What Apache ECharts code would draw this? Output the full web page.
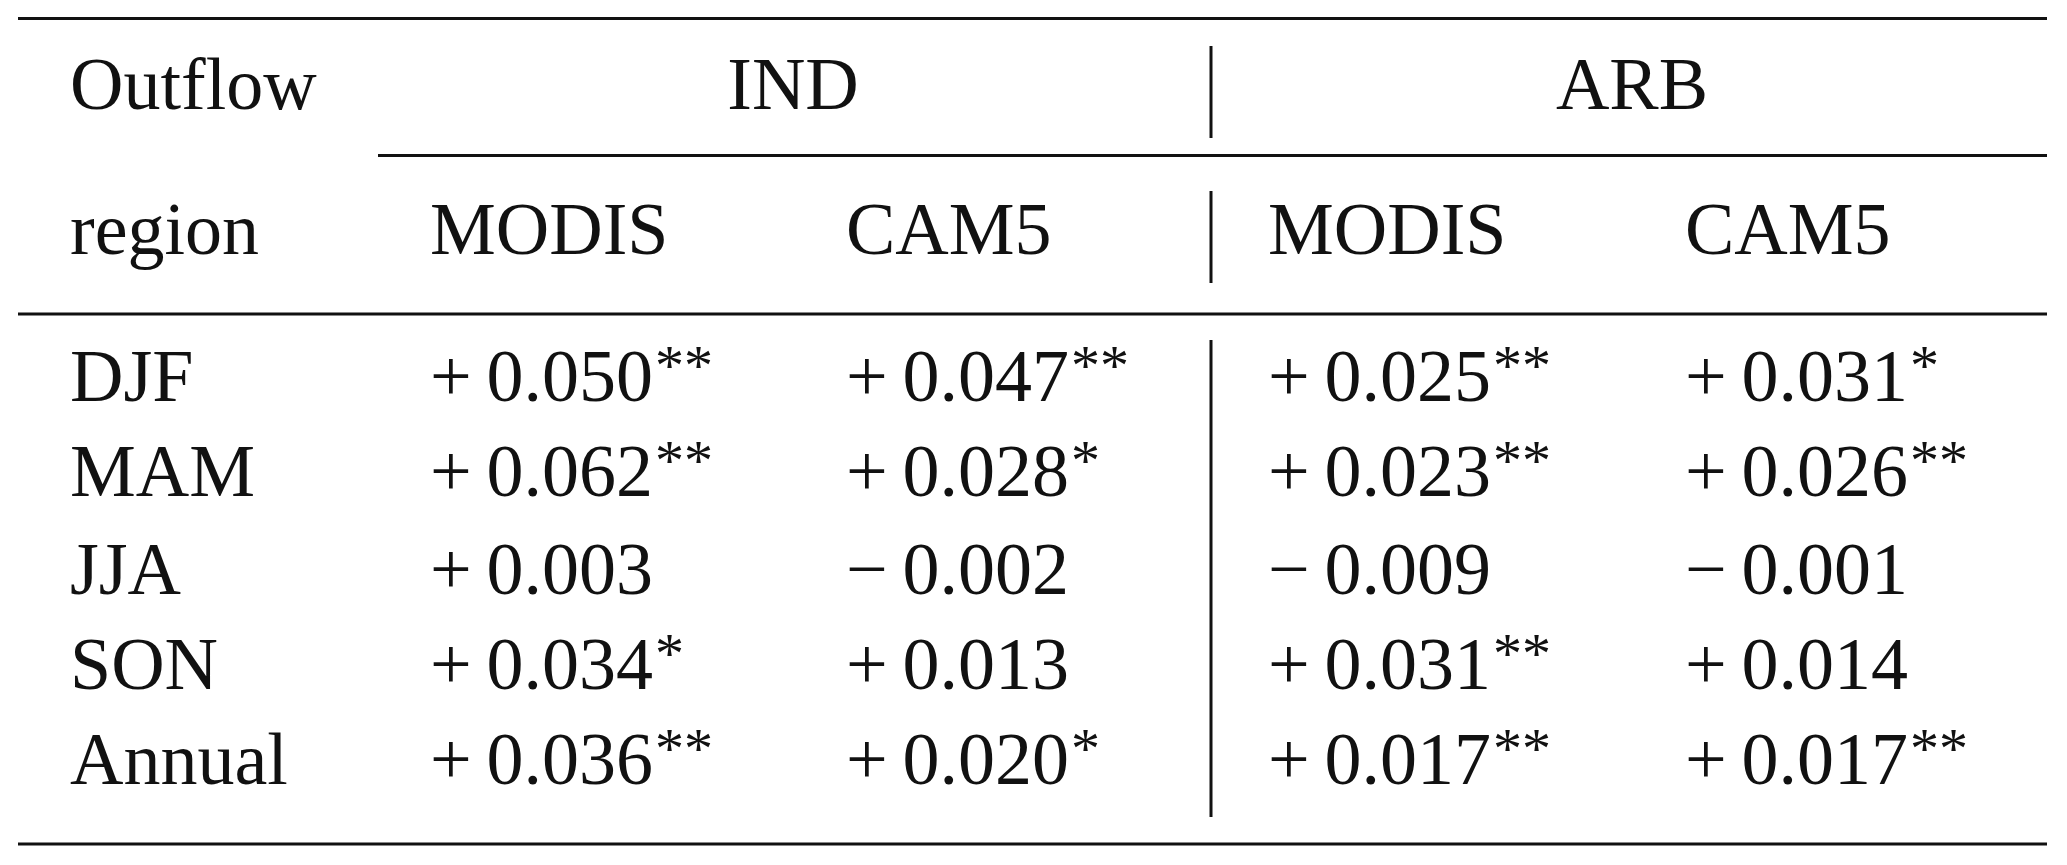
<!DOCTYPE html>
<html><head><meta charset="utf-8">
<script src="https://cdn.jsdelivr.net/npm/echarts@6/dist/echarts.min.js"></script>
<style>html,body{margin:0;background:#fff}#c{width:2067px;height:865px}</style>
</head><body><div id="c"></div>
<script>
const groups = ["IND", "ARB"];
const subHeaders = ["MODIS", "CAM5", "MODIS", "CAM5"];
const rowLabels = ["DJF", "MAM", "JJA", "SON", "Annual"];
const values = [
  ["+0.050", "+0.047", "+0.025", "+0.031"],
  ["+0.062", "+0.028", "+0.023", "+0.026"],
  ["+0.003", "\u22120.002", "\u22120.009", "\u22120.001"],
  ["+0.034", "+0.013", "+0.031", "+0.014"],
  ["+0.036", "+0.020", "+0.017", "+0.017"]
];
const stars = [
  ["**", "**", "**", "*"],
  ["**", "*", "**", "**"],
  ["", "", "", ""],
  ["*", "", "**", ""],
  ["**", "*", "**", "**"]
];

const FONT = '"Liberation Serif","DejaVu Serif",serif';
const FS = 74;
const colX = [430, 846, 1268, 1685];
const groupX = [793, 1632];
const rowY = [382, 477, 575, 670, 765];
const els = [];
function txt(x, y, t, align, rich) {
  els.push({type:'text', x, y, style:{text:t, font:`${FS}px ${FONT}`, fill:'#111', align:align||'left', verticalAlign:'middle', rich}});
}
function line(x1,y1,x2,y2){els.push({type:'line',shape:{x1,y1,x2,y2},style:{stroke:'#111',lineWidth:3}});}
line(18,18.5,2047,18.5);
line(378,155.5,2047,155.5);
line(18,314,2047,314);
line(18,844,2047,844);
line(1211,46,1211,138);
line(1211,191,1211,283);
line(1211,340,1211,817);
txt(70,90,"Outflow");
txt(70,235,"region");
groups.forEach((g,i)=>txt(groupX[i],90,g,'center'));
subHeaders.forEach((h,i)=>txt(colX[i],235,h));
const rich = {
  n:{fontSize:FS, fontFamily:FONT, fill:'#111'},
  s:{fontSize:58, fontFamily:FONT, fill:'#111', padding:[0,0,24,2]}
};
function fmt(v){ return v.charAt(0) + '\u2009' + v.slice(1); }
rowLabels.forEach((r,j)=>{
  txt(70,rowY[j],r);
  values[j].forEach((v,i)=>{
    const s = stars[j][i];
    const n = fmt(v);
    txt(colX[i],rowY[j], s ? `{n|${n}}{s|${s}}` : `{n|${n}}`, 'left', rich);
  });
});
const chart = echarts.init(document.getElementById('c'));
chart.setOption({animation:false, graphic:{elements:els}});
</script></body></html>
